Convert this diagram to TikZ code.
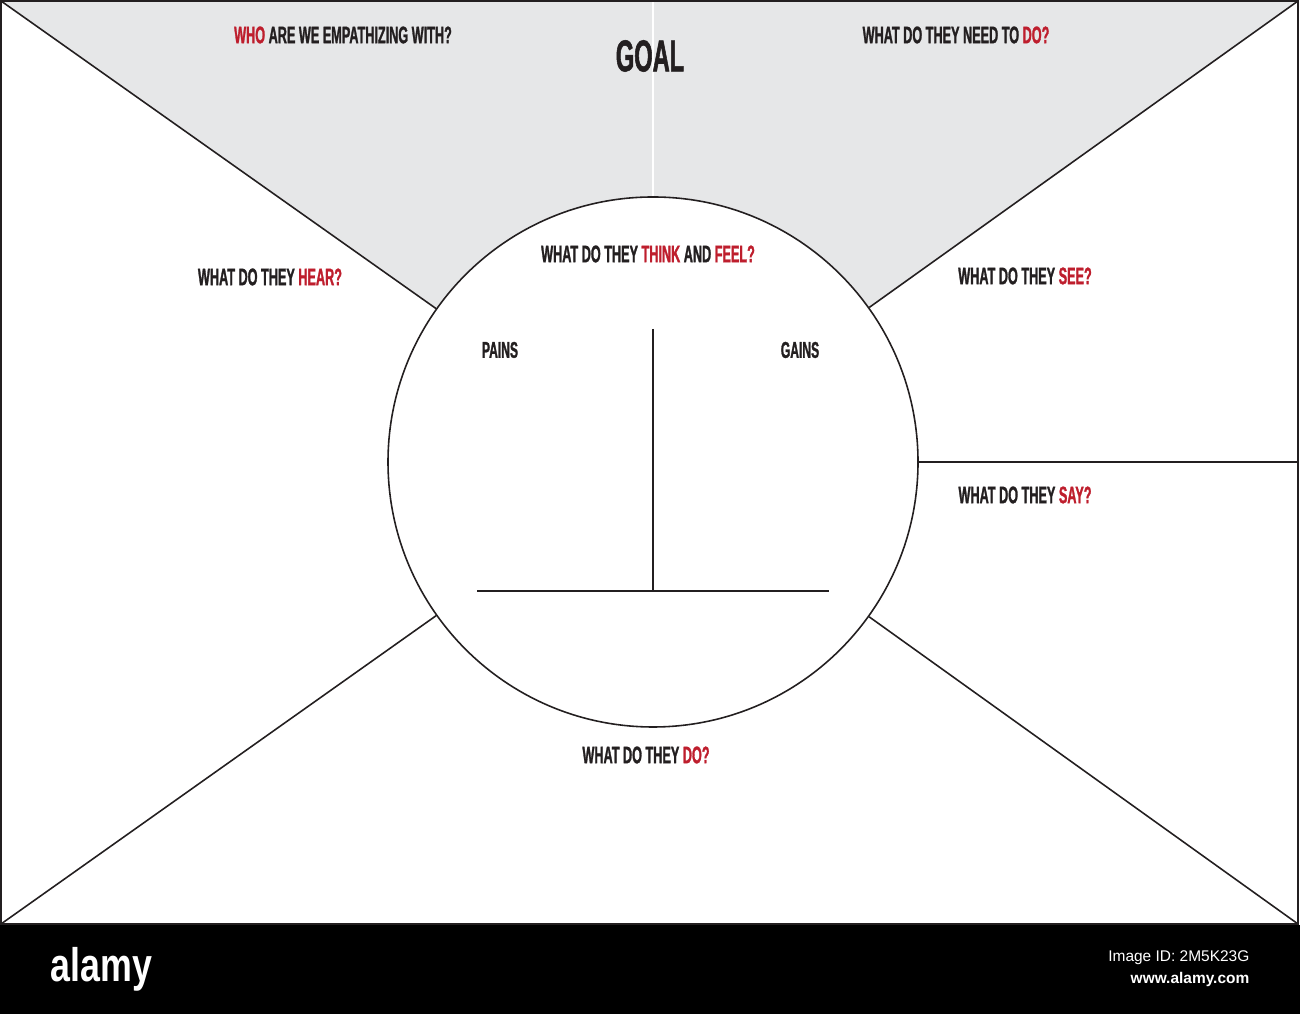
\documentclass[tikz,border=0pt]{standalone}
\usepackage{fontspec}
\usepackage{tikz}
\usetikzlibrary{positioning, calc, backgrounds}
\setmainfont{Liberation Sans}
\newfontfamily\mapfont[FakeStretch=0.53,BoldFeatures={FakeBold=1.2}]{Liberation Sans}
\newfontfamily\logofont[FakeStretch=0.76]{Liberation Sans}
\newcommand{\circlesize}{5.3cm}
\newcommand{\rojo}[1]{\textcolor{rojizo}{#1}}
\definecolor{rojizo}{RGB}{190,30,45}
\definecolor{grisito}{RGB}{230,231,232}
\definecolor{negrito}{RGB}{35,31,32}
\tikzset{question/.style={inner sep=0pt, text=negrito, font=\fontsize{6.8}{8}\selectfont\mapfont\bfseries},
	side/.style={inner sep=0pt, text=negrito, font=\fontsize{6.5}{8}\selectfont\mapfont\bfseries},
	trazo/.style={line width=.45pt, negrito}}

\begin{document}
\begin{tikzpicture}
	\useasboundingbox (0,0) rectangle (13,10.14);
	\coordinate (tl) at (0.01,10.13);
	\coordinate (tr) at (12.98,10.13);
	\coordinate (bl) at (0.01,0.90);
	\coordinate (br) at (12.98,0.90);
	\coordinate (mid) at (6.53,5.52);
	% goal area
	\fill [grisito] (tl) -- (tr) -- (mid) -- cycle;
	\draw [white,line width=.6pt] (6.53,10.13) -- (mid);
	\node [draw, trazo, circle, fill=white, minimum size=\circlesize] (circ) at (mid) {};
	\draw [trazo] (tl) rectangle (br);
	% the four diagonals
	\draw [trazo] (tl) -- (circ);
	\draw [trazo] (tr) -- (circ);
	\draw [trazo] (bl) -- (circ);
	\draw [trazo] (br) -- (circ);
	\coordinate (saye) at (12.98,5.52);
	\draw [trazo] (circ.east) -- (saye);
	% pains / gains
	\coordinate (ttop) at (6.53,6.85);
	\coordinate (tbot) at (6.53,4.23);
	\coordinate (tleft) at (4.77,4.23);
	\coordinate (tright) at (8.29,4.23);
	\draw [trazo] (ttop) -- (tbot);
	\draw [trazo] (tleft) -- (tright);
	% labels
	\node [question] (who) at (3.43,9.79) {\rojo{WHO} ARE WE EMPATHIZING WITH?};
	\node [inner sep=0pt, text=negrito, font=\fontsize{12.7}{14}\selectfont\mapfont\bfseries] (goal) at (6.50,9.58) {GOAL};
	\node [question] (need) at (9.56,9.79) {WHAT DO THEY NEED TO \rojo{DO?}};
	\node [question] (hear) at (2.70,7.37) {WHAT DO THEY \rojo{HEAR?}};
	\node [question] (think) at (6.48,7.60) {WHAT DO THEY \rojo{THINK} AND \rojo{FEEL?}};
	\node [question] (see) at (10.25,7.38) {WHAT DO THEY \rojo{SEE?}};
	\node [side] (pains) at (5.00,6.64) {PAINS};
	\node [side] (gains) at (8.00,6.64) {GAINS};
	\node [question] (say) at (10.25,5.19) {WHAT DO THEY \rojo{SAY?}};
	\node [question] (do) at (6.46,2.59) {WHAT DO THEY \rojo{DO?}};
	% stock band
	\fill [black] (0,0) rectangle (13,0.89);
	\node [anchor=base west, inner sep=0pt, text=white, font=\fontsize{13.4}{15}\selectfont\logofont\bfseries] (logo) at (0.50,0.33) {alamy};
	\node [anchor=base east, inner sep=0pt, text=white, font=\fontsize{4.4}{5}\selectfont] (imgid) at (12.50,0.52) {Image ID: 2M5K23G};
	\node [anchor=base east, inner sep=0pt, text=white, font=\fontsize{4.4}{5}\selectfont\bfseries] (web) at (12.50,0.31) {www.alamy.com};
\end{tikzpicture}
\end{document}
